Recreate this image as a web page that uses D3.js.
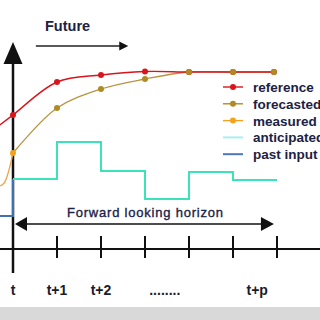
<!DOCTYPE html>
<html>
<head>
<meta charset="utf-8">
<script src="https://cdn.jsdelivr.net/npm/d3@7"></script>
<style>
  body { margin: 0; background: #fff; }
  svg { display: block; font-family: Arial, "Liberation Sans", sans-serif; }
</style>
</head>
<body>
<div id="chart"></div>
<script>
// time steps: 0 = t, 1 = t+1 ... (arbitrary units)
const tickSteps = [1, 2, 3, 4, 5, 6];
const tickLabels = [
  {step: 0, text: 't'},
  {step: 1, text: 't+1'},
  {step: 2, text: 't+2'},
  {step: 3.45, text: '........'},
  {step: 5.55, text: 't+p'}
];

const reference = [
  {step: -0.3, v: 124}, {step: 0, v: 134}, {step: 1, v: 167}, {step: 2, v: 174},
  {step: 3, v: 177.5}, {step: 4, v: 177}, {step: 5, v: 177}, {step: 5.93, v: 177}
];
const forecasted = [
  {step: 0, v: 96}, {step: 1, v: 141}, {step: 2, v: 160}, {step: 3, v: 170},
  {step: 4, v: 177}, {step: 5, v: 177}, {step: 5.93, v: 177}
];
const measured = [
  {step: -0.3, v: 63}, {step: -0.2, v: 66}, {step: 0, v: 96}
];
const anticipated = [
  {step: 0, v: 70}, {step: 1, v: 107}, {step: 2, v: 78}, {step: 3, v: 50},
  {step: 4, v: 77}, {step: 5, v: 69}, {step: 6, v: 69}
];
const pastInput = [
  {step: -0.3, v: 33}, {step: 0, v: 33}, {step: 0, v: 70}
];

const legendItems = [
  {name: 'reference', color: '#d8151c', dot: true},
  {name: 'forecasted', color: '#b08a22', dot: true},
  {name: 'measured', color: '#f2a31e', dot: true},
  {name: 'anticipated', color: '#a8eef0', dot: false},
  {name: 'past input', color: '#4a78b4', dot: false}
];

const width = 320, height = 320;
const svg = d3.select('#chart').append('svg')
  .attr('width', width).attr('height', height);

const x = d3.scaleLinear().domain([0, 6]).range([13, 277]);
const y = d3.scaleLinear().domain([0, 207]).range([249, 42]);

// bottom grey strip
svg.append('rect').attr('x', 0).attr('y', 307).attr('width', width).attr('height', 13)
  .attr('fill', '#d9d9d9');

// axes
svg.append('line').attr('x1', 0).attr('x2', width).attr('y1', y(0)).attr('y2', y(0))
  .attr('stroke', '#111').attr('stroke-width', 2.2);
svg.append('line').attr('x1', x(0)).attr('x2', x(0)).attr('y1', 273).attr('y2', 60)
  .attr('stroke', '#111').attr('stroke-width', 2.5);
svg.append('path')
  .attr('d', `M${x(0)},42 L${x(0) + 9.5},64 L${x(0) - 9.5},64 Z`)
  .attr('fill', '#111');

svg.append('g').selectAll('line')
  .data(tickSteps)
  .join('line')
    .attr('x1', d => x(d)).attr('x2', d => x(d))
    .attr('y1', 236).attr('y2', 258)
    .attr('stroke', '#111').attr('stroke-width', 2);

svg.append('g').selectAll('text')
  .data(tickLabels)
  .join('text')
    .attr('x', d => x(d.step))
    .attr('y', 295)
    .attr('text-anchor', 'middle')
    .attr('font-size', 14)
    .attr('font-weight', 'bold')
    .attr('fill', '#1a1c2a')
    .text(d => d.text);

// lines
const line = d3.line().x(d => x(d.step)).y(d => y(d.v));

svg.append('path').datum(pastInput)
  .attr('d', line)
  .attr('fill', 'none').attr('stroke', '#3f72b0').attr('stroke-width', 2);

svg.append('path').datum(anticipated)
  .attr('d', line.curve(d3.curveStepAfter))
  .attr('fill', 'none').attr('stroke', '#3de3b8').attr('stroke-width', 2);

line.curve(d3.curveCatmullRom);

svg.append('path').datum(measured)
  .attr('d', line)
  .attr('fill', 'none').attr('stroke', '#e8a850').attr('stroke-width', 1.3);

svg.append('path').datum(forecasted)
  .attr('d', line)
  .attr('fill', 'none').attr('stroke', '#b89440').attr('stroke-width', 1.3);

svg.append('path').datum(reference)
  .attr('d', line)
  .attr('fill', 'none').attr('stroke', '#d8151c').attr('stroke-width', 1.4);

svg.append('g').selectAll('circle')
  .data(reference.filter(d => d.step >= 0))
  .join('circle')
    .attr('cx', d => x(d.step)).attr('cy', d => y(d.v)).attr('r', 3)
    .attr('fill', '#d8151c');

svg.append('g').selectAll('circle')
  .data(forecasted.filter(d => d.step > 0))
  .join('circle')
    .attr('cx', d => x(d.step)).attr('cy', d => y(d.v)).attr('r', 3)
    .attr('fill', '#b08a22');

svg.append('g').selectAll('circle')
  .data(measured.filter(d => d.step === 0))
  .join('circle')
    .attr('cx', d => x(d.step)).attr('cy', d => y(d.v)).attr('r', 3)
    .attr('fill', '#f2a31e');

// future arrow
svg.append('text').attr('x', 45).attr('y', 31)
  .attr('font-size', 14.5).attr('font-weight', 'bold').attr('fill', '#1c2145')
  .text('Future');
svg.append('line').attr('x1', x(0.52)).attr('x2', x(2.5)).attr('y1', 46).attr('y2', 46)
  .attr('stroke', '#222').attr('stroke-width', 1.5);
svg.append('path')
  .attr('d', `M${x(2.62)},46 L${x(2.62) - 9},41.5 L${x(2.62) - 9},50.5 Z`)
  .attr('fill', '#111');

// forward looking horizon
const hy = 224;
svg.append('line').attr('x1', x(0) + 10).attr('x2', x(5.93) - 10).attr('y1', hy).attr('y2', hy)
  .attr('stroke', '#111').attr('stroke-width', 1.5);
svg.append('path')
  .attr('d', `M${x(0) + 2},${hy} L${x(0) + 14},${hy - 7} L${x(0) + 14},${hy + 7} Z`)
  .attr('fill', '#111');
svg.append('path')
  .attr('d', `M${x(5.93)},${hy} L${x(5.93) - 13},${hy - 7} L${x(5.93) - 13},${hy + 7} Z`)
  .attr('fill', '#111');
svg.append('text').attr('x', 67).attr('y', 217)
  .attr('font-size', 13).attr('fill', '#1c2145')
  .attr('stroke', '#1c2145').attr('stroke-width', 0.35)
  .attr('textLength', 156).attr('lengthAdjust', 'spacing')
  .text('Forward looking horizon');

// legend (text runs off the right edge, as in the original figure)
const legend = svg.append('g').selectAll('g')
  .data(legendItems)
  .join('g')
    .attr('transform', (d, i) => `translate(223,${87 + i * 16.8})`);

legend.append('line')
  .attr('x1', 0).attr('x2', 20).attr('y1', 0).attr('y2', 0)
  .attr('stroke', d => d.color).attr('stroke-width', d => d.dot ? 1.4 : 2);

legend.filter(d => d.dot).append('circle')
  .attr('cx', 10).attr('cy', 0).attr('r', 3)
  .attr('fill', d => d.color);

legend.append('text')
  .attr('x', 30).attr('y', 5)
  .attr('font-size', 13.5).attr('font-weight', 'bold').attr('fill', '#1c2145')
  .text(d => d.name);
</script>
</body>
</html>
